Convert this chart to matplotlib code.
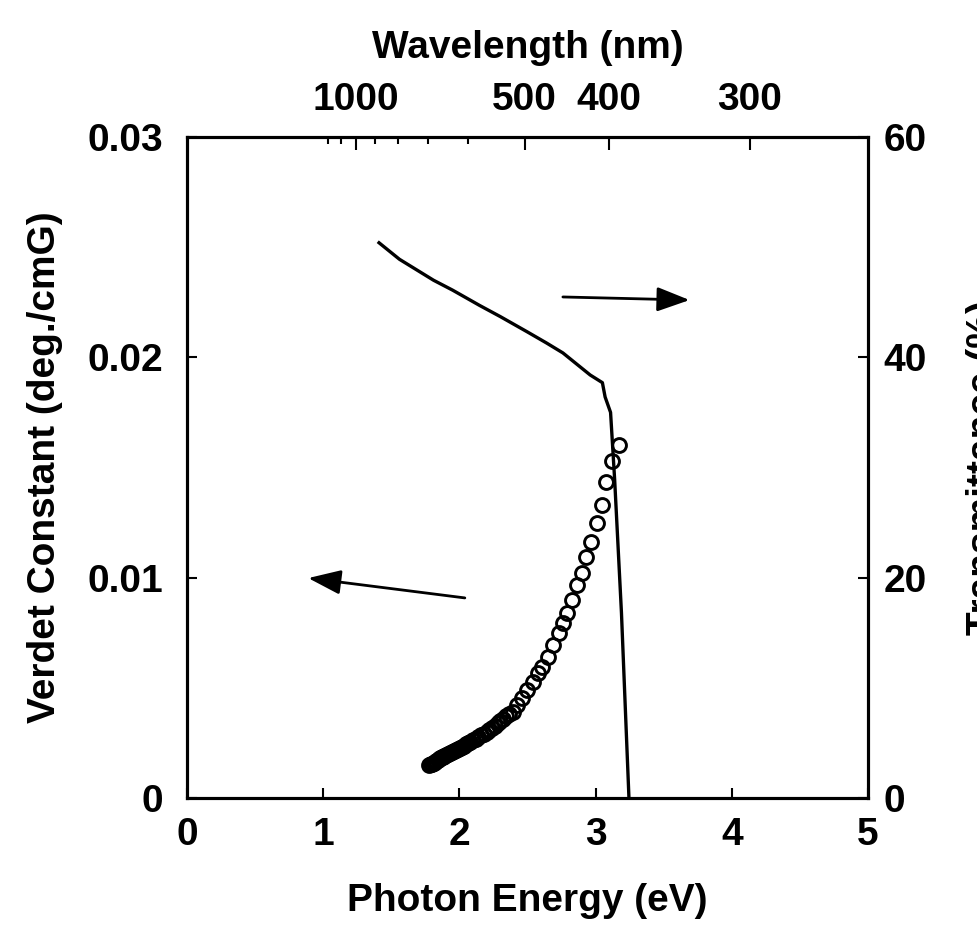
import numpy as np
import matplotlib
matplotlib.use('Agg')
import matplotlib.pyplot as plt

plt.rcParams['font.family'] = ['Liberation Sans', 'DejaVu Sans']
plt.rcParams['font.weight'] = 'bold'

# Verdet constant (open circles, left axis)
energy_v = [1.78, 1.79, 1.80, 1.81, 1.82, 1.83, 1.84, 1.85, 1.86, 1.87, 1.88, 1.89, 1.90,
            1.915, 1.93, 1.945, 1.96, 1.975, 1.99, 2.005, 2.02, 2.035, 2.05, 2.065, 2.08,
            2.10, 2.12, 2.14, 2.16, 2.18, 2.20, 2.22, 2.24, 2.26, 2.28, 2.30, 2.32, 2.34,
            2.365, 2.39, 2.42, 2.46, 2.50, 2.54, 2.58, 2.61, 2.65, 2.69, 2.73, 2.76, 2.79,
            2.83, 2.86, 2.90, 2.93, 2.97, 3.01, 3.05, 3.08, 3.12, 3.17]
verdet = [0.00148, 0.00152, 0.00156, 0.00160, 0.00165, 0.00168, 0.00172, 0.00177, 0.00181,
          0.00184, 0.00188, 0.00191, 0.00194, 0.00199, 0.00204, 0.00209, 0.00213, 0.00218,
          0.00223, 0.00228, 0.00233, 0.00238, 0.00244, 0.00250, 0.00255, 0.00262, 0.00269,
          0.00276, 0.00284, 0.00292, 0.00300, 0.00308, 0.00318, 0.00328, 0.00339, 0.00349,
          0.00360, 0.00370, 0.00380, 0.00392, 0.00420, 0.00454, 0.00490, 0.00526, 0.00566,
          0.00595, 0.00640, 0.00694, 0.00749, 0.00794, 0.00840, 0.00899, 0.00967, 0.01021,
          0.01094, 0.01162, 0.01248, 0.01330, 0.01434, 0.01530, 0.01602]

# Transmittance (solid line, right axis)
energy_t = [1.41, 1.56, 1.81, 1.95, 2.15, 2.30, 2.50, 2.64, 2.76, 2.89, 2.96, 3.05, 3.07,
            3.11, 3.14, 3.19, 3.245]
transm = [50.4, 48.9, 47.0, 46.1, 44.7, 43.7, 42.3, 41.3, 40.4, 39.1, 38.4, 37.7, 36.4,
          35.0, 28.9, 16.8, 0.0]

wl_major = [1000, 500, 400, 300]
wl_minor = [1200, 1100, 900, 800, 700, 600]

fs = 28
fig = plt.figure(figsize=(9.78, 9.41), dpi=100)
ax = fig.add_axes([0.1912, 0.1520, 0.6963, 0.7024])

ax.plot(energy_v, verdet, 'o', mfc='none', mec='black', ms=10, mew=2.1, zorder=3)
ax.set_xlim(0, 5)
ax.set_ylim(0, 0.03)
ax.set_xticks([0, 1, 2, 3, 4, 5])
ax.set_yticks([0, 0.01, 0.02, 0.03], ['0', '0.01', '0.02', '0.03'])
ax.tick_params(direction='in', length=7, width=1.5, labelsize=fs, pad=14)
ax.tick_params(axis='y', pad=17)
ax.set_xlabel('Photon Energy (eV)', fontsize=fs, fontweight='bold', labelpad=21)
ax.set_ylabel('Verdet Constant (deg./cmG)', fontsize=fs, fontweight='bold', labelpad=18)

# right axis
ax2 = ax.twinx()
ax2.plot(energy_t, transm, color='black', lw=2.4)
ax2.set_ylim(0, 60)
ax2.set_yticks([0, 20, 40, 60])
ax2.tick_params(direction='in', length=7, width=1.5, labelsize=fs, pad=11)

# top wavelength axis
ax3 = ax.twiny()
ax3.set_xlim(0, 5)
ax3.set_xticks([1240.0 / w for w in wl_major], [str(w) for w in wl_major])
ax3.set_xticks([1240.0 / w for w in wl_minor], minor=True)
ax3.tick_params(direction='in', length=9, width=1.5, labelsize=fs, pad=14)
ax3.tick_params(which='minor', direction='in', length=5, width=1.5)
ax3.set_xlabel('Wavelength (nm)', fontsize=fs, fontweight='bold', labelpad=17)

for a in (ax, ax2, ax3):
    for s in a.spines.values():
        s.set_linewidth(2.2)

arrow = dict(arrowstyle='-|>,head_length=0.8,head_width=0.3', lw=2, color='black',
             mutation_scale=25, shrinkA=0, shrinkB=0)
ax.annotate('', xy=(3.69, 0.0226), xytext=(2.76, 0.02274), arrowprops=arrow)
ax.annotate('', xy=(0.89, 0.00998), xytext=(2.04, 0.00908), arrowprops=arrow)

# right-hand label runs off the page edge, as in the original scan
fig.text(0.988, 0.503, 'Transmittance (%)', rotation=90, ha='left', va='center',
         fontsize=fs, fontweight='bold')

fig.savefig('out.png', dpi=100)
